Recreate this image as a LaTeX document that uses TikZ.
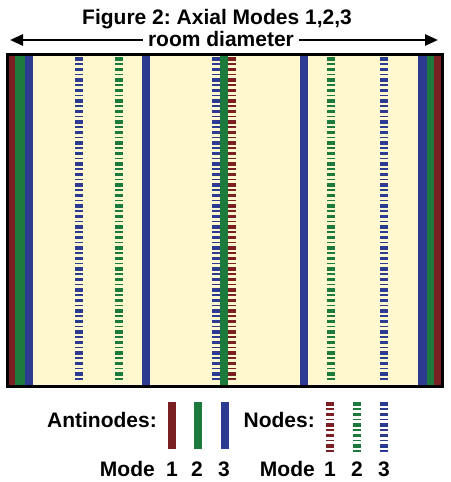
\documentclass[tikz,border=0pt]{standalone}
\usepackage{fontspec}
\setmainfont{Liberation Sans}
\usetikzlibrary{arrows.meta}
\frenchspacing
\definecolor{cream}{HTML}{FFF8CF}
\definecolor{mred}{HTML}{7B2022}
\definecolor{mgreen}{HTML}{1C7A3C}
\definecolor{mblue}{HTML}{2C3A92}
\newcommand\nodestripe[5]{% color, xl, xr, ytop, span
  \foreach \dd in {0,10.5,...,#5} {%
    \fill[#1] (#2,{#4+\dd}) rectangle (#3,{#4+\dd+3.8});
    \fill[#1] (#2,{#4+\dd+6.2}) rectangle (#3,{#4+\dd+7.8});
  }}
\tikzset{
  lbl/.style={font=\bfseries\fontsize{21}{24}\selectfont, inner sep=0pt, anchor=base},
}
\begin{document}
\begin{tikzpicture}[x=1pt,y=-1pt]
\useasboundingbox (0,0) rectangle (450,482);
\fill[white] (0,0) rectangle (450,482);
% title
\node[lbl] (title) at (217,24) {Figure 2: Axial Modes 1,2,3};
% arrow
\coordinate (aL) at (10,40);
\coordinate (aR) at (438,40);
\draw[line width=2.6pt, {Triangle[length=13pt,width=11pt]}-{Triangle[length=13pt,width=11pt]}] (aL) -- (aR);
\node[lbl, fill=white, inner xsep=5pt, inner ysep=1pt] (rd) at (221,46) {room diameter};
% room
\fill[cream] (9,56) rectangle (441,385);
% antinodes at walls
\fill[mred] (9,56) rectangle (15,385);
\fill[mgreen] (15,56) rectangle (25,385);
\fill[mblue] (25,56) rectangle (33,385);
\fill[mblue] (418,56) rectangle (427,385);
\fill[mgreen] (427,56) rectangle (434,385);
\fill[mred] (434,56) rectangle (441,385);
% mode 3 antinodes
\fill[mblue] (142,56) rectangle (150,385);
\fill[mblue] (300,56) rectangle (308,385);
% mode 2 antinode center
\fill[mgreen] (220,56) rectangle (228,385);
% nodes
\nodestripe{mblue}{75}{83}{57}{321}
\nodestripe{mgreen}{115}{123}{57}{321}
\nodestripe{mblue}{212}{220}{57}{321}
\nodestripe{mred}{228}{236}{57}{321}
\nodestripe{mgreen}{327}{335}{57}{321}
\nodestripe{mblue}{380}{388}{57}{321}
% frame
\draw[line width=3.2pt] (7.5,54.5) rectangle (442.5,386.5);
% legend
\node[lbl, anchor=base east] (anti) at (157,427) {Antinodes:};
\fill[mred] (168,402) rectangle (176,449);
\fill[mgreen] (194,402) rectangle (202,449);
\fill[mblue] (221,402) rectangle (229,449);
\node[lbl, anchor=base east] (nodes) at (315,427) {Nodes:};
\nodestripe{mred}{326}{334}{402}{42}
\nodestripe{mgreen}{353}{361}{402}{42}
\nodestripe{mblue}{380}{388}{402}{42}
\node[lbl, anchor=base east] (m1) at (155,476) {Mode};
\node[lbl] (m11) at (172,476) {1};
\node[lbl] (m12) at (197,476) {2};
\node[lbl] (m13) at (224,476) {3};
\node[lbl, anchor=base east] (m2) at (315,476) {Mode};
\node[lbl] (m21) at (330,476) {1};
\node[lbl] (m22) at (357,476) {2};
\node[lbl] (m23) at (384,476) {3};
\end{tikzpicture}
\end{document}
